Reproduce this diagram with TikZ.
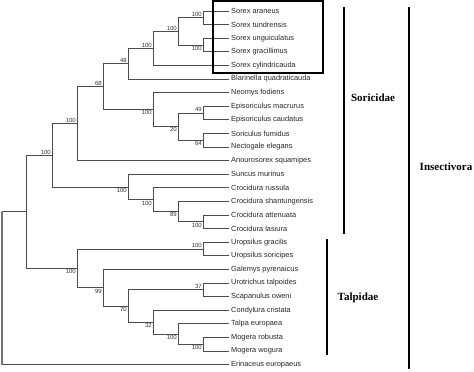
\documentclass[tikz,border=0pt]{standalone}
\usepackage{fontspec}
\setmainfont{Liberation Serif}
\newfontfamily\arialfont{Liberation Sans}
\usetikzlibrary{positioning}

\begin{document}
\begin{tikzpicture}[
    x=1pt, y=-1pt,
    branch/.style={
        draw=black!70,
        line width=0.8pt
    },
    taxon/.style={
        inner sep=0pt,
        text=black!85,
        font=\arialfont\fontsize{7.4}{8}\selectfont
    },
    boot/.style={
        inner sep=1pt,
        text=black!80,
        font=\arialfont\fontsize{6}{7}\selectfont
    },
    bar/.style={
        draw=black,
        line width=1.6pt
    },
    clade/.style={
        font=\fontsize{11}{13}\selectfont\bfseries
    },
    sorexbox/.style={
        draw=black,
        line width=1.6pt
    }
]
\useasboundingbox (0,0) rectangle (474,372);

% Taxa
\foreach \name [count=\i from 0] in {Sorex araneus, Sorex tundrensis,
    Sorex unguiculatus, Sorex gracillimus, Sorex cylindricauda,
    Blarinella quadraticauda, Neomys fodiens, Episoriculus macrurus,
    Episoriculus caudatus, Soriculus fumidus, Nectogale elegans,
    Anourosorex squamipes, Suncus murinus, Crocidura russula,
    Crocidura shantungensis, Crocidura attenuata, Crocidura lasiura,
    Uropsilus gracilis, Uropsilus soricipes, Galemys pyrenaicus,
    Urotrichus talpoides, Scapanulus oweni, Condylura cristata,
    Talpa europaea, Mogera robusta, Mogera wogura, Erinaceus europaeus} {
    \coordinate (t\i) at (229,{11+13.6*\i});
    \node[taxon, right=2pt of t\i] (s\i) {\name};
}

% Internal nodes (Soricidae)
\coordinate (nA) at (203,17.8);
\coordinate (nB) at (203,45);
\coordinate (nC) at (178,31.4);
\coordinate (nD) at (153,48.4);
\coordinate (nE) at (128,63.7);
\coordinate (nF) at (203,113);
\coordinate (nG) at (203,140.2);
\coordinate (nH) at (178,126.6);
\coordinate (nI) at (153,109.6);
\coordinate (nJ) at (103,86.65);
\coordinate (nK) at (77,123.6);
\coordinate (nL) at (203,221.8);
\coordinate (nM) at (178,211.6);
\coordinate (nN) at (153,199.7);
\coordinate (nO) at (128,186.95);
\coordinate (nP) at (52,155.3);

% Internal nodes (Talpidae)
\coordinate (nQ) at (203,249);
\coordinate (nR) at (203,289.8);
\coordinate (nS) at (203,344.2);
\coordinate (nT) at (178,334);
\coordinate (nU) at (153,322.1);
\coordinate (nV) at (128,305.95);
\coordinate (nW) at (103,287.7);
\coordinate (nX) at (77,268.3);
\coordinate (nY) at (26,211.8);
\coordinate (root) at (2,288.2);

% Branches
\draw[branch] (nA) |- (t0);
\draw[branch] (nA) |- (t1);
\draw[branch] (nB) |- (t2);
\draw[branch] (nB) |- (t3);
\draw[branch] (nC) |- (nA);
\draw[branch] (nC) |- (nB);
\draw[branch] (nD) |- (nC);
\draw[branch] (nD) |- (t4);
\draw[branch] (nE) |- (nD);
\draw[branch] (nE) |- (t5);
\draw[branch] (nF) |- (t7);
\draw[branch] (nF) |- (t8);
\draw[branch] (nG) |- (t9);
\draw[branch] (nG) |- (t10);
\draw[branch] (nH) |- (nF);
\draw[branch] (nH) |- (nG);
\draw[branch] (nI) |- (t6);
\draw[branch] (nI) |- (nH);
\draw[branch] (nJ) |- (nE);
\draw[branch] (nJ) |- (nI);
\draw[branch] (nK) |- (nJ);
\draw[branch] (nK) |- (t11);
\draw[branch] (nL) |- (t15);
\draw[branch] (nL) |- (t16);
\draw[branch] (nM) |- (t14);
\draw[branch] (nM) |- (nL);
\draw[branch] (nN) |- (t13);
\draw[branch] (nN) |- (nM);
\draw[branch] (nO) |- (t12);
\draw[branch] (nO) |- (nN);
\draw[branch] (nP) |- (nK);
\draw[branch] (nP) |- (nO);
\draw[branch] (nQ) |- (t17);
\draw[branch] (nQ) |- (t18);
\draw[branch] (nR) |- (t20);
\draw[branch] (nR) |- (t21);
\draw[branch] (nS) |- (t24);
\draw[branch] (nS) |- (t25);
\draw[branch] (nT) |- (t23);
\draw[branch] (nT) |- (nS);
\draw[branch] (nU) |- (t22);
\draw[branch] (nU) |- (nT);
\draw[branch] (nV) |- (nR);
\draw[branch] (nV) |- (nU);
\draw[branch] (nW) |- (t19);
\draw[branch] (nW) |- (nV);
\draw[branch] (nX) |- (nQ);
\draw[branch] (nX) |- (nW);
\draw[branch] (nY) |- (nP);
\draw[branch] (nY) |- (nX);
\draw[branch] (root) |- (nY);
\draw[branch] (root) |- (t26);
\draw[branch, draw=black!55, line width=1.6pt] (nY -| root) -- (t26 -| root);

% Bootstrap values
\node[boot, above left] at (nA) {100};
\node[boot, below left] at (nB) {100};
\node[boot, above left] at (nC) {100};
\node[boot, above left] at (nD) {100};
\node[boot, above left] at (nE) {48};
\node[boot, above left] at (nF) {49};
\node[boot, below left] at (nG) {64};
\node[boot, below left] at (nH) {20};
\node[boot, below left] at (nI) {100};
\node[boot, above left] at (nJ) {68};
\node[boot, above left] at (nK) {100};
\node[boot, below left] at (nL) {100};
\node[boot, below left] at (nM) {89};
\node[boot, below left] at (nN) {100};
\node[boot, below left] at (nO) {100};
\node[boot, above left] at (nP) {100};
\node[boot, above left] at (nQ) {100};
\node[boot, above left] at (nR) {37};
\node[boot, below left] at (nS) {100};
\node[boot, below left] at (nT) {100};
\node[boot, below left] at (nU) {32};
\node[boot, below left] at (nV) {70};
\node[boot, below left] at (nW) {99};
\node[boot, below left] at (nX) {100};

% Sorex box
\draw[sorexbox] (213,0.8) rectangle (323,73);

% Clade bars
\draw[bar] (344,7) -- (344,234);
\node[clade] (soricidae) at (373,98) {Soricidae};
\draw[bar] (327,239) -- (327,355);
\node[clade] (talpidae) at (358,298) {Talpidae};
\draw[bar] (409,7) -- (409,369);
\node[clade] (insectivora) at (446,167) {Insectivora};

\end{tikzpicture}
\end{document}
